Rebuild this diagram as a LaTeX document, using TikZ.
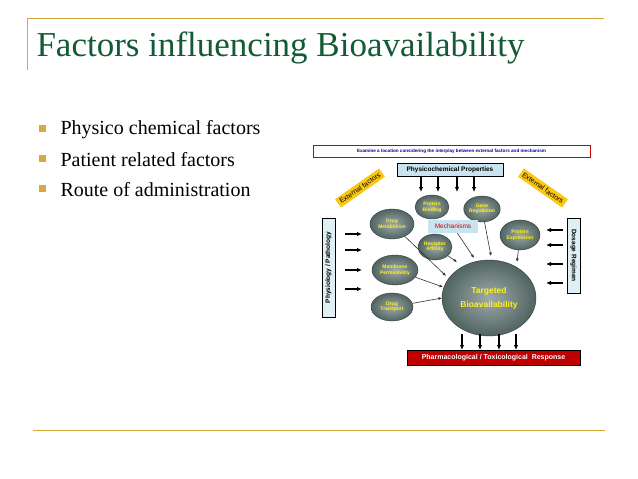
\documentclass[tikz,border=0pt]{standalone}
\usepackage{fontspec}
\setmainfont{Liberation Serif}
\newfontfamily\dsans{Liberation Sans}
\usetikzlibrary{arrows.meta,shapes.geometric}
\definecolor{gold}{RGB}{214,170,60}
\definecolor{tgreen}{RGB}{20,90,55}
\definecolor{ellg}{RGB}{80,100,98}
\definecolor{lblue}{RGB}{200,228,240}
\definecolor{ylw}{RGB}{250,200,20}
\tikzset{
 ell/.style={ellipse,draw=ellg!60!black,inner color=ellg!55!white,outer color=ellg,inner sep=0pt,font=\dsans\bfseries\fontsize{5}{5.5}\selectfont,text=yellow!90!white,align=center},
 arr/.style={-{Latex[length=5pt,width=4.5pt]},line width=1.1pt},
 thin/.style={-{Latex[length=3.5pt,width=3pt]},line width=0.6pt,draw=black!80},
 bul/.style={fill=gold,minimum size=7pt,inner sep=0pt},
 btxt/.style={anchor=west,font=\fontsize{20}{22}\selectfont},
 ext/.style={fill=ylw,font=\dsans\fontsize{7}{8}\selectfont,inner sep=2.5pt}
}
\begin{document}
\begin{tikzpicture}[x=1pt,y=-1pt]
\useasboundingbox (0,0) rectangle (638,479);
\fill[white] (0,0) rectangle (638,479);
\draw[gold,line width=0.8pt] (27,70) -- (27,18) coordinate (c1) -- (604,18) coordinate (c2);
\draw[gold,line width=0.8pt] (33,430) coordinate (c3) -- (605,430) coordinate (c4);
\node[anchor=west,text=tgreen,font=\fontsize{35}{37}\selectfont] (title) at (33,48) {Factors influencing Bioavailability};
\node[bul] (b1) at (42,128) {}; \node[btxt] (t1) at (57,130) {Physico chemical factors};
\node[bul] (b2) at (42,158) {}; \node[btxt] (t2) at (57,160) {Patient related factors};
\node[bul] (b3) at (42,188) {}; \node[btxt] (t3) at (57,190) {Route of administration};
% diagram
\node[draw=red!80!black,line width=0.8pt,minimum width=277pt,minimum height=12pt,inner sep=0pt,font=\dsans\bfseries\fontsize{4.6}{5}\selectfont,text=blue!60!black] (top) at (451.5,151) {Examine a location considering the interplay between external factors and mechanism};
\node[draw,line width=0.8pt,fill=lblue,minimum width=106pt,minimum height=13pt,inner sep=0pt,font=\dsans\bfseries\fontsize{6.5}{7}\selectfont] (phys) at (450,169.5) {Physicochemical Properties};
\node[ext,rotate=35] (ex1) at (360,188) {External factors};
\node[ext,rotate=-35] (ex2) at (543,188) {External factors};
\node[draw,line width=0.8pt,fill=lblue!60,minimum width=99pt,minimum height=13pt,inner sep=0pt,rotate=90,font=\dsans\bfseries\fontsize{6.5}{7}\selectfont] (pp) at (328.5,267.5) {Physiology / Pathology};
\node[draw,line width=0.8pt,fill=lblue!60,minimum width=75pt,minimum height=13pt,inner sep=0pt,rotate=-90,font=\dsans\bfseries\fontsize{6.5}{7}\selectfont] (dr) at (573.5,255.5) {Dosage Regimen};
\node[ell,minimum width=94pt,minimum height=76pt,font=\dsans\bfseries\fontsize{8.5}{14}\selectfont] (tb) at (489,298) {Targeted\\Bioavailability};
\node[ell,minimum width=34pt,minimum height=24pt] (pb) at (432,207) {Protein\\Binding};
\node[ell,minimum width=36pt,minimum height=26pt] (gr) at (482,209) {Gene\\Regulation};
\node[ell,minimum width=44pt,minimum height=30pt] (dm) at (392,224) {Drug\\Metabolism};
\node[ell,minimum width=34pt,minimum height=26pt] (ra) at (435,247) {Receptor\\Affinity};
\node[ell,minimum width=40pt,minimum height=30pt] (pe) at (520,235) {Protein\\Expression};
\node[ell,minimum width=46pt,minimum height=30pt] (mp) at (395,270) {Membrane\\Permeability};
\node[ell,minimum width=42pt,minimum height=28pt] (dt) at (392,307) {Drug\\Transport};
\node[fill=lblue,minimum width=50pt,minimum height=13pt,inner sep=0pt,text=red!80!black,font=\dsans\fontsize{6.5}{7}\selectfont] (mech) at (453,226.5) {Mechanisms};
\node[draw,line width=0.8pt,fill=red!75!black,minimum width=173pt,minimum height=15pt,inner sep=0pt,text=white,font=\dsans\bfseries\fontsize{7}{8}\selectfont] (resp) at (493.5,357.5) {Pharmacological / Toxicological\ \ Response};
% arrows
\foreach \x in {421,438,457,474} \draw[arr] (\x,176) -- (\x,192);
\foreach \y in {234,250,270,289} \draw[arr] (345,\y) -- (362,\y);
\foreach \y in {230,245,264,283} \draw[arr] (563,\y) -- (546,\y);
\foreach \x in {462,480,499,516} \draw[arr] (\x,334) -- (\x,350);
\draw[thin] (dm) -- (446,276);
\draw[thin] (mp) -- (443,287);
\draw[thin] (dt) -- (442,298);
\draw[thin] (ra) -- (457,262);
\draw[thin] (mech) -- (474,258);
\draw[thin] (gr) -- (491,256);
\draw[thin] (pe) -- (517,262);
\end{tikzpicture}
\end{document}
